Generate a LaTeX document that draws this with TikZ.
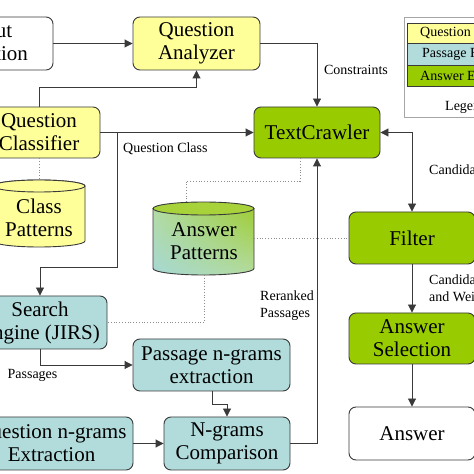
\documentclass[tikz,border=0pt]{standalone}
\usepackage{fontspec}
\setmainfont{Liberation Serif}
\usetikzlibrary{arrows.meta,shadings}
\definecolor{qyellow}{HTML}{FFFF99}
\definecolor{pblue}{HTML}{B2DCDC}
\definecolor{agreen}{HTML}{99CC00}
\definecolor{linec}{HTML}{3A3A3A}
\definecolor{dotc}{HTML}{8C8C8C}
\definecolor{cylteal}{HTML}{A6D8D4}
\definecolor{cylgreen}{HTML}{9CCB2A}
\definecolor{cylmid}{HTML}{B4DCA0}
\definecolor{cyltop}{HTML}{A8D23A}
\newcommand\boxfont{\fontsize{21}{23}\selectfont}
\newcommand\labfont{\fontsize{14}{17.5}\selectfont}
\begin{document}
\begin{tikzpicture}[x=1pt,y=1pt,
  box/.style={draw=linec, line width=0.9pt, rounded corners=7pt, align=center, font=\boxfont, inner sep=0pt},
  qbox/.style={box, fill=qyellow},
  pbox/.style={box, fill=pblue},
  abox/.style={box, fill=agreen},
  wbox/.style={box, fill=white},
  arr/.style={draw=linec, line width=0.9pt, -{Triangle[length=8pt,width=8pt]}},
  darr/.style={draw=linec, line width=0.9pt, {Triangle[length=8pt,width=8pt]}-{Triangle[length=8pt,width=8pt]}},
  dotline/.style={draw=dotc, line width=0.8pt, dotted},
  lab/.style={font=\labfont, inner sep=0pt, align=left},
  cyltext/.style={font=\boxfont, inner sep=0pt, align=center},
  legrow/.style={draw=linec, line width=0.8pt, anchor=north west, minimum width=90pt, inner sep=0pt},
]
\useasboundingbox (0,0) rectangle (474,474);
\clip (0,0) rectangle (474,474);
\fill[white] (0,0) rectangle (474,474);

% boxes
\node[wbox, minimum width=126pt, minimum height=53pt] (inq) at (-10,430.5) {Input\\Question};
\node[qbox, minimum width=127pt, minimum height=53pt] (qa) at (196.5,430.5) {Question\\Analyzer};
\node[qbox, minimum width=122pt, minimum height=51pt] (qc) at (39,341.5) {Question\\Classifier};
\node[abox, minimum width=126pt, minimum height=51pt] (tc) at (317,341.5) {TextCrawler};
\node[abox, minimum width=126pt, minimum height=52pt] (fl) at (412,236) {Filter};
\node[abox, minimum width=126pt, minimum height=51pt] (as) at (412,135.5) {Answer\\Selection};
\node[wbox, minimum width=126pt, minimum height=53pt] (ans) at (412,40.5) {Answer};
\node[pbox, minimum width=134pt, minimum height=53pt] (se) at (40,151.5) {Search\\Engine (JIRS)};
\node[pbox, minimum width=157pt, minimum height=52pt] (pn) at (211.5,109) {Passage n-grams\\extraction};
\node[pbox, minimum width=163pt, minimum height=53pt] (qn) at (51.5,30.5) {Question n-grams\\Extraction};
\node[pbox, minimum width=126pt, minimum height=53pt] (ng) at (227,30.5) {N-grams\\Comparison};

% Class Patterns cylinder
\path[draw=linec, line width=0.9pt, fill=qyellow] (-7,288) -- (-7,233)
  arc[start angle=180, end angle=360, x radius=46pt, y radius=6pt] -- (85,288)
  arc[start angle=0, end angle=180, x radius=46pt, y radius=6pt] -- cycle;
\draw[linec, line width=0.9pt, fill=qyellow] (39,288) ellipse[x radius=46pt, y radius=6pt];
\node[cyltext] (cp) at (39,256.5) {Class\\Patterns};
\coordinate (cpt) at (39,294);

% Answer Patterns cylinder
\shade[lower left=cylteal, upper right=cylgreen, upper left=cylmid, lower right=cylmid]
  (153,265.5) -- (153,205.5)
  arc[start angle=180, end angle=360, x radius=50.5pt, y radius=6.5pt] -- (254,265.5)
  arc[start angle=0, end angle=180, x radius=50.5pt, y radius=6.5pt] -- cycle;
\draw[linec, line width=0.9pt] (153,265.5) -- (153,205.5)
  arc[start angle=180, end angle=360, x radius=50.5pt, y radius=6.5pt] -- (254,265.5);
\draw[linec, line width=0.9pt, fill=cyltop] (203.5,265.5) ellipse[x radius=50.5pt, y radius=6.5pt];
\node[cyltext] (ap) at (204,233) {Answer\\Patterns};
\coordinate (apt) at (186,272);
\coordinate (apr) at (254,236);
\coordinate (apb) at (204,199);

% dotted links
\coordinate (d1) at (186,293);
\coordinate (d2) at (300,293);
\coordinate (d3) at (300,316);
\draw[dotline] (qc.south) -- (cpt);
\draw[dotline] (apt) -- (d1) -- (d2) -- (d3);
\draw[dotline] (apr) -- (fl.west);
\draw[dotline] (apb) |- (se.east);

% arrows
\draw[arr] (inq.east) -- (qa.west);
\draw[arr] (qc.north) |- ++(0,19) -| (qa.south);
\draw[arr] (qc.east) -- (tc.west);
\coordinate (j1) at (117,341.5);
\coordinate (j2) at (40,207);
\draw[arr] (j1) |- (j2) -- (se.north);
\draw[arr] (qa.east) -| (tc.north);
\draw[darr] (tc.east) -| (fl.north);
\draw[arr] (fl.south) -- (as.north);
\draw[arr] (as.south) -- (ans.north);
\draw[arr] (ng.east) -| (tc.south);
\draw[arr] (se.south) |- (pn.west);
\coordinate (k1) at (212,70);
\coordinate (k2) at (227,70);
\draw[arr] (pn.south -| k1) -- (k1) -- (k2) -- (ng.north);
\draw[arr] (qn.east) -- (ng.west);

% labels
\node[lab, anchor=west] (lqc) at (123,325) {Question Class};
\node[lab] (lcon) at (356,404) {Constraints};
\node[lab, anchor=west] (lcand) at (429,304) {Candidates};
\node[lab, anchor=west] (lcw) at (429,184.5) {Candidates\\and Weights};
\node[lab, anchor=west] (lrr) at (260,168.5) {Reranked\\Passages};
\node[lab] (lpas) at (32.5,99) {Passages};

% legend
\node[draw=gray!70, line width=0.8pt, fill=white, anchor=north west, minimum width=100pt, minimum height=100pt, inner sep=0pt] (leg) at (404,457) {};
\node[legrow, fill=qyellow, minimum height=20pt] (lr1) at (407,451) {};
\node[legrow, fill=pblue, minimum height=22pt] (lr2) at (407,431) {};
\node[legrow, fill=agreen, minimum height=21pt] (lr3) at (407,409) {};
\node[lab, anchor=west] (lt1) at (420,441) {Question Analysis};
\node[lab, anchor=west] (lt2) at (422,420) {Passage Retrieval};
\node[lab, anchor=west] (lt3) at (420,398.5) {Answer Extraction};
\node[lab, anchor=west] (lt4) at (445,367) {Legend};
\end{tikzpicture}
\end{document}
